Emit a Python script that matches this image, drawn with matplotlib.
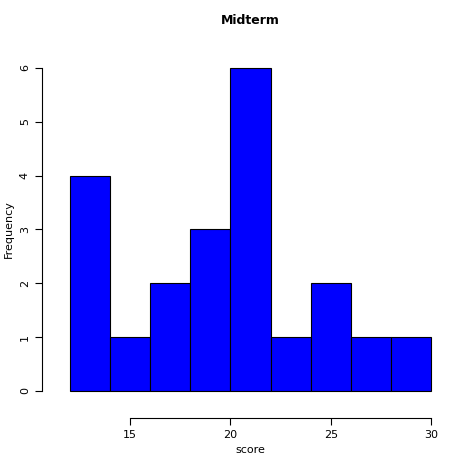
import matplotlib
matplotlib.use("Agg")
import matplotlib.pyplot as plt

bin_edges = [12, 14, 16, 18, 20, 22, 24, 26, 28, 30]
counts = [4, 1, 2, 3, 6, 1, 2, 1, 1]
xticks = [15, 20, 25, 30]
yticks = [0, 1, 2, 3, 4, 5, 6]

fig = plt.figure(figsize=(4.74, 4.74), dpi=100)
ax = fig.add_axes([0.117, 0.148, 0.823, 0.736])
ax.bar(bin_edges[:-1], counts, width=[b - a for a, b in zip(bin_edges[:-1], bin_edges[1:])],
       align='edge', color='#0000ff', edgecolor='black', linewidth=0.8)
ax.set_xlim(11.28, 30.72)
ax.set_ylim(-0.24, 6.24)
for s in ['top', 'right']:
    ax.spines[s].set_visible(False)
ax.spines['left'].set_position(('outward', 10))
ax.spines['bottom'].set_position(('outward', 10))
ax.spines['left'].set_bounds(0, 6)
ax.spines['bottom'].set_bounds(15, 30)
ax.set_xticks(xticks)
ax.set_yticks(yticks)
ax.tick_params(labelsize=8, length=5)
for lbl in ax.get_yticklabels():
    lbl.set_rotation(90)
    lbl.set_va('center')
ax.set_xlabel('score', fontsize=8)
ax.set_ylabel('Frequency', fontsize=8)
ax.set_title('Midterm', fontsize=9, fontweight='bold', pad=22)
fig.savefig('out.png', dpi=100)
